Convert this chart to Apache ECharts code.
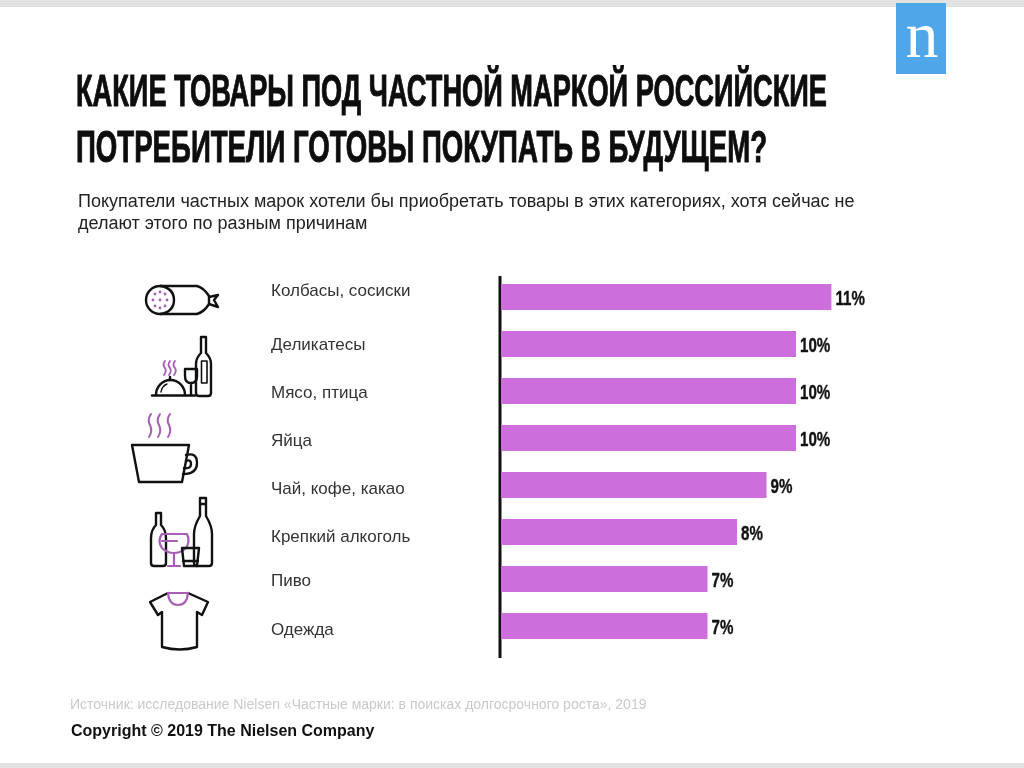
<!DOCTYPE html>
<html>
<head>
<meta charset="utf-8">
<style>
  html, body { margin: 0; padding: 0; background: #fff; }
  #chart { width: 1024px; height: 768px; }
</style>
<script src="https://cdn.jsdelivr.net/npm/echarts@6/dist/echarts.min.js"></script>
</head>
<body>
<div id="chart"></div>
<script>
var categories = ['Колбасы, сосиски', 'Деликатесы', 'Мясо, птица', 'Яйца', 'Чай, кофе, какао', 'Крепкий алкоголь', 'Пиво', 'Одежда'];
// bar lengths, the printed labels are rounded
var values = [11.2, 10, 10, 10, 9, 8, 7, 7];
var labelShift = [-6, 1, 2, 3, 4, 5, 2, 4]; // category text sits off the bar centre in the original

var titleLines = ['КАКИЕ ТОВАРЫ ПОД ЧАСТНОЙ МАРКОЙ РОССИЙСКИЕ', 'ПОТРЕБИТЕЛИ ГОТОВЫ ПОКУПАТЬ В БУДУЩЕМ?'];
var subText = 'Покупатели частных марок хотели бы приобретать товары в этих категориях, хотя сейчас не\nделают этого по разным причинам';
var sourceText = 'Источник: исследование Nielsen «Частные марки: в поисках долгосрочного роста», 2019';
var copyrightText = 'Copyright © 2019 The Nielsen Company';

var SANS = '"Liberation Sans", Arial, sans-serif';
var PURPLE = '#a65fb5';
var shapeCount = 0;

// graphic has no plain path element, so each icon stroke gets its own shape class
function pathEl(d, style) {
  var name = 'iconShape' + (shapeCount++);
  echarts.graphic.registerShape(name, echarts.graphic.extendPath(d, {}));
  return { type: name, silent: true, style: style };
}
function line(d, color, width) {
  return pathEl(d, { fill: null, stroke: color || '#111', lineWidth: width || 2.4, lineCap: 'round', lineJoin: 'round' });
}
function solid(d, fill) {
  return pathEl(d, { fill: fill, stroke: '#111', lineWidth: 2.4 });
}
function dot(x, y) {
  return { type: 'circle', silent: true, shape: { cx: x, cy: y, r: 1.4 }, style: { fill: PURPLE } };
}

// no condensed font installed: squeeze the text to the width it has in the original
function titleLine(text, x, y, width) {
  var font = 'bold 45px "Liberation Sans", sans-serif';
  var ctx = document.createElement('canvas').getContext('2d');
  ctx.font = font;
  return {
    type: 'text', silent: true, x: x, y: y, scaleX: width / ctx.measureText(text).width,
    style: {
      text: text, font: font, fill: '#0d0d0d', stroke: '#0d0d0d', lineWidth: 1,
      textAlign: 'left', textVerticalAlign: 'middle'
    }
  };
}

function icons() {
  var els = [];
  // sausage
  els.push(solid('M160 286H197Q204 288 209 296V304Q204 312 197 314H160A14 14 0 0 1 160 286Z', '#fff'));
  els.push(solid('M160 286A14 14 0 0 1 160 314Q174 312 174 300Q174 288 160 286Z', '#f6e9f7'));
  els.push(line('M209 297L218 295L214 300L218 307L209 304'));
  [[160, 292], [155, 294], [165, 294], [153, 300], [160, 300], [167, 300], [155, 306], [165, 306], [160, 308]].forEach(function (p) {
    els.push(dot(p[0], p[1]));
  });
  // plate, glass and wine bottle
  els.push(line('M152 395.5H195'));
  els.push(line('M156 395A14.5 15 0 0 1 185 395'));
  els.push(line('M170 377V380'));
  els.push(line('M161 392Q162 386 167 384', '#111', 1.4));
  els.push(line('M185 369H197V376Q197 383 191 383Q185 383 185 376ZM191 383V395'));
  els.push(line('M201 337H206V353Q211 358 211 364V393Q211 396 208 396H199Q196 396 196 393V364Q196 358 201 353Z'));
  els.push(line('M201.5 361H207V383H201.5Z', '#111', 1.6));
  [165, 170, 175].forEach(function (x) {
    els.push(line('M' + x + ' 361Q' + (x - 3) + ' 365 ' + x + ' 368Q' + (x + 2) + ' 371 ' + (x - 1) + ' 375', PURPLE, 1.8));
  });
  // cup
  els.push(line('M132 445H189L182 482H139Z'));
  els.push(line('M186 455Q197 452 197 463Q197 474 183 474M186 461Q191 459 191 464Q191 469 184 468'));
  [151, 160, 170].forEach(function (x) {
    els.push(line('M' + x + ' 414Q' + (x - 4) + ' 420 ' + (x - 1) + ' 425Q' + (x + 2) + ' 431 ' + (x - 2) + ' 437', PURPLE, 2));
  });
  // spirits
  els.push(line('M156 513H161V525Q166 530 166 538V563Q166 566 163 566H154Q151 566 151 563V538Q151 530 156 525Z'));
  els.push(line('M200 498H206V516Q212 526 212 534V563Q212 566 209 566H197Q194 566 194 563V534Q194 526 200 516ZM200 504H206'));
  els.push(line('M162 534H187Q191 543 185 549Q180 553 174 553Q167 553 162 548Q157 541 162 534ZM174 553V565M168 566H180M162 541H177', PURPLE, 2.2));
  els.push(line('M182 548H199L197 566H184ZM183 561H198'));
  // t-shirt
  els.push(line('M168 593L150 602L158 615L162 612V647Q180 652 197 647V612L202 615L208 602L188 593'));
  els.push(line('M168 593Q169 605 178 605Q187 605 188 593H168', PURPLE, 2.2));
  return els;
}

var chart = echarts.init(document.getElementById('chart'));

var option = {
  backgroundColor: '#fff',
  animation: false,
  title: [
    { text: subText, left: 78, top: 191, padding: 0, textStyle: { fontFamily: SANS, fontWeight: 'normal', fontSize: 18, lineHeight: 22, color: '#222' } },
    { text: sourceText, left: 70, top: 698, padding: 0, textStyle: { fontFamily: SANS, fontWeight: 'normal', fontSize: 14, color: '#c9c9c9' } },
    { text: copyrightText, left: 71, top: 724, padding: 0, textStyle: { fontFamily: SANS, fontWeight: 'bold', fontSize: 16, color: '#111' } }
  ],
  grid: { left: 501, top: 273.5, width: 354, height: 376 },
  xAxis: { type: 'value', min: 0, max: 12, show: false },
  yAxis: {
    type: 'category',
    inverse: true,
    data: categories,
    axisLine: { show: false },
    axisTick: { show: false },
    splitLine: { show: false },
    axisLabel: { show: false }
  },
  series: [{
    type: 'bar',
    data: values,
    barWidth: 26,
    itemStyle: { color: '#cc6fdc' }
  }, {
    // value labels as a custom series, a bar label can't be squeezed
    type: 'custom',
    data: values,
    encode: { x: 1, y: 0 },
    renderItem: function (params, api) {
      var pos = api.coord([api.value(1), api.value(0)]);
      return {
        type: 'text', x: pos[0] + 4, y: pos[1] + 2, scaleX: 0.72,
        style: {
          text: Math.round(api.value(1)) + '%',
          font: 'bold 21px "Liberation Sans", sans-serif',
          fill: '#111', stroke: '#111', lineWidth: 0.4, textAlign: 'left', textVerticalAlign: 'middle'
        }
      };
    }
  }, {
    // category names, each one off the bar centre like in the original
    type: 'custom',
    data: values,
    encode: { x: 1, y: 0 },
    renderItem: function (params, api) {
      var pos = api.coord([0, api.value(0)]);
      return {
        type: 'text', x: pos[0] - 230, y: pos[1] + labelShift[params.dataIndex],
        style: {
          text: categories[params.dataIndex],
          font: '17px "Liberation Sans", sans-serif',
          fill: '#333', textAlign: 'left', textVerticalAlign: 'middle'
        }
      };
    }
  }],
  graphic: [
    { type: 'rect', silent: true, shape: { x: 0, y: 0, width: 1024, height: 7 }, style: { fill: '#e2e2e2' } },
    { type: 'rect', silent: true, shape: { x: 0, y: 763, width: 1024, height: 5 }, style: { fill: '#e2e2e2' } },
    { type: 'rect', silent: true, shape: { x: 896, y: 3, width: 50, height: 71 }, style: { fill: '#4fa6e8' } },
    { type: 'text', silent: true, x: 922, y: 73, style: { text: 'n', fill: '#fff', font: '66px "Liberation Serif", serif', textAlign: 'center', textVerticalAlign: 'bottom' } },
    { type: 'line', silent: true, shape: { x1: 500, y1: 276, x2: 500, y2: 658 }, style: { stroke: '#111', lineWidth: 3 } },
    titleLine(titleLines[0], 76, 94, 751),
    titleLine(titleLines[1], 76, 150, 691)
  ].concat(icons())
};

chart.setOption(option);
</script>
</body>
</html>
